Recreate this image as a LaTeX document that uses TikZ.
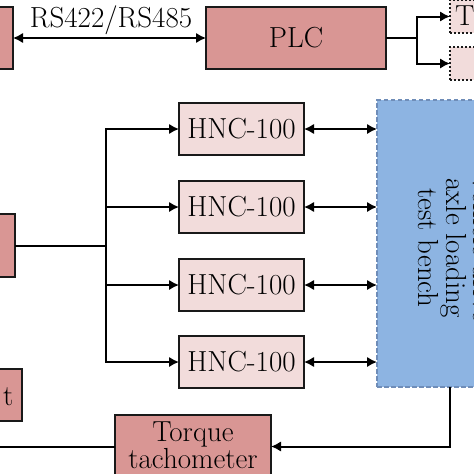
\documentclass[tikz,border=0pt]{standalone}
\usetikzlibrary{arrows.meta}
\definecolor{darkbox}{HTML}{D99694}
\definecolor{lightbox}{HTML}{F2DCDB}
\definecolor{bluebox}{HTML}{8DB4E2}
\definecolor{blueedge}{HTML}{6F8DB8}
\begin{document}
\begin{tikzpicture}[x=1pt,y=-1pt,
 every node/.style={font=\fontsize{29}{27.5}\selectfont, inner sep=0pt, outer sep=0pt},
 dbox/.style={draw=black!90, line width=1.9pt, fill=darkbox},
 lbox/.style={draw=black!90, line width=1.9pt, fill=lightbox},
 dotbox/.style={draw=black!90, line width=1.9pt, fill=lightbox, dash pattern=on 2pt off 2pt},
 bbox/.style={draw=blueedge, line width=1.3pt, fill=bluebox, dash pattern=on 4.5pt off 2.5pt},
 conn/.style={line width=2pt, black},
 arr/.style={conn, -{Latex[length=10pt,width=10.5pt]}},
 darr/.style={conn, {Latex[length=10pt,width=10.5pt]}-{Latex[length=10pt,width=10.5pt]}},
]
\useasboundingbox (0,0) rectangle (474,474);
\clip (0,0) rectangle (474,474);

% boxes
\node[dbox, minimum width=60pt, minimum height=62pt] (l1) at (-17,38) {};
\node[dbox, minimum width=180pt, minimum height=62pt] (plc) at (296,38) {PLC};
\node[dotbox, minimum width=70pt, minimum height=33pt] (t1) at (485,16.5) {};
\node[anchor=base west] (t1t) at (455,25) {T};
\node[dotbox, minimum width=70pt, minimum height=33pt] (t2) at (485,63.5) {};

\node[bbox, minimum width=170pt, minimum height=287pt] (bench) at (462,243.5) {};
\node[rotate=-90, align=center] (benchtxt) at (456,248) {Vehicle drive\\axle loading\\test bench};

\node[lbox, minimum width=125pt, minimum height=52pt] (h1) at (241.5,129) {HNC-100};
\node[lbox, minimum width=125pt, minimum height=52pt] (h2) at (241.5,207) {HNC-100};
\node[lbox, minimum width=125pt, minimum height=52pt] (h3) at (241.5,285) {HNC-100};
\node[lbox, minimum width=125pt, minimum height=52pt] (h4) at (241.5,362) {HNC-100};

\node[dbox, minimum width=55pt, minimum height=63pt] (l2) at (-12.5,245.5) {};
\node[dbox, minimum width=62pt, minimum height=52pt] (l3) at (-9,395) {};
\node[anchor=base west] (l3t) at (3,405) {t};

\node[dbox, minimum width=156pt, minimum height=63pt] (tq) at (193,446.5) {};
\node[align=center] (tqt) at (193,445) {Torque\\tachometer};

% connectors
\draw[darr] (l1.east) -- (plc.west);
\node[anchor=base] (rs) at (111,27) {RS422/RS485};

\coordinate (pf) at (417,38);
\draw[conn] (plc.east) -- (pf);
\draw[arr] (pf) |- (t1.west);
\draw[arr] (pf) |- (t2.west);

\coordinate (hf) at (106,245.5);
\draw[conn] (l2.east) -- (hf);
\draw[arr] (hf) |- (h1.west);
\draw[arr] (hf) |- (h2.west);
\draw[arr] (hf) |- (h3.west);
\draw[arr] (hf) |- (h4.west);

\draw[darr] (h1.east) -- (h1.east -| bench.west);
\draw[darr] (h2.east) -- (h2.east -| bench.west);
\draw[darr] (h3.east) -- (h3.east -| bench.west);
\draw[darr] (h4.east) -- (h4.east -| bench.west);

\draw[arr] ([xshift=-12pt]bench.south) |- (tq.east);
\coordinate (tqleft) at (-10,446.5);
\draw[conn] (tq.west) -- (tqleft);
\end{tikzpicture}
\end{document}
